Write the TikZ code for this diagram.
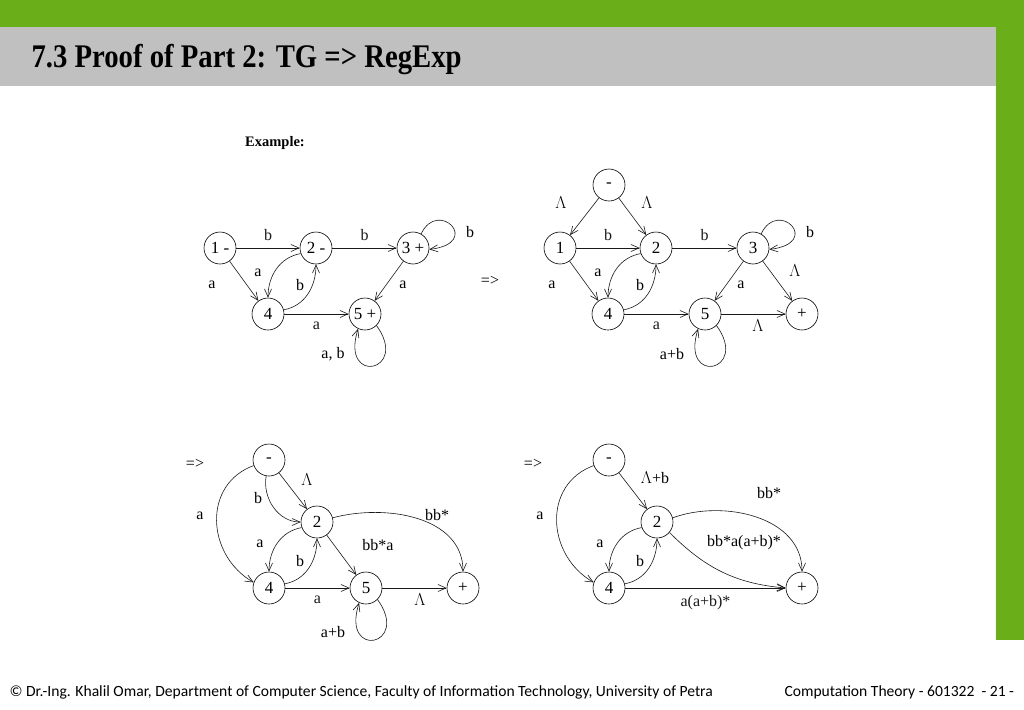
\documentclass[tikz,border=0pt]{standalone}
\usepackage{fontspec}
\setmainfont{Liberation Serif}
\newfontfamily\footfont{Carlito}
\newfontfamily\titlefont[FakeStretch=0.87]{Liberation Serif}
\usetikzlibrary{arrows.meta,calc}
\definecolor{topgreen}{HTML}{6AAF1A}
\definecolor{bandgray}{HTML}{C0C0C0}
\begin{document}
\begin{tikzpicture}[x=1pt,y=-1pt,
  st/.style={circle,draw,semithick,minimum size=32pt,inner sep=0pt,font=\fontsize{17}{17}\selectfont},
  lb/.style={font=\fontsize{16}{16}\selectfont},
  ed/.style={draw,-{Straight Barb[length=8pt,width=7pt]},semithick,gray!20!black}]
\useasboundingbox (0,0) rectangle (1024,709);
\fill[white] (0,0) rectangle (1024,709);
\fill[topgreen] (0,0) rectangle (1024,27);
\fill[topgreen] (996,27) rectangle (1024,640);
\fill[bandgray] (0,27) rectangle (996,86);
\node[anchor=west,font=\titlefont\bfseries\fontsize{33}{33}\selectfont] (title) at (28,60) {7.3 Proof of Part 2: TG => RegExp};
\node[anchor=west,font=\footfont\fontsize{15.6}{15.6}\selectfont] (foot1) at (6,692) {© Dr.-Ing. Khalil Omar, Department of Computer Science, Faculty of Information Technology, University of Petra};
\node[anchor=west,font=\footfont\fontsize{15.6}{15.6}\selectfont] (foot2) at (781,692) {Computation Theory - 601322 \ - 21 -};
\node[font=\bfseries\fontsize{14.5}{14.5}\selectfont] (ex) at (275,143) {Example:};

% graph 1
\node[st] (a1) at (220,248) {1 -};
\node[st] (a2) at (316,248) {2 -};
\node[st] (a3) at (413,248) {3 +};
\node[st] (a4) at (268,314) {4};
\node[st] (a5) at (365,314) {5 +};
\draw[ed] (a1) -- node[lb,above=4pt]{b} (a2);
\draw[ed] (a2) -- node[lb,above=4pt]{b} (a3);
\draw[ed] (a1) -- (a4);
\node[lb] (la14) at (212,285) {a};
\draw[ed] (a3) -- (a5);
\node[lb] (la35) at (403,285) {a};
\draw[ed] (a4) -- node[lb,below=4pt]{a} (a5);
\draw[ed] (a2.200) to[out=190,in=90] (a4.north);
\node[lb] (la24) at (258,273) {a};
\draw[ed] (a4.15) to[out=10,in=-90] (a2.south);
\node[lb] (lb42) at (300,285) {b};
\draw[ed] (a3.60) .. controls ($(a3)+(25,-50)$) and ($(a3)+(70,-5)$) .. (a3.-5);
\node[lb] (lb3) at (470,232) {b};
\draw[ed] (a5.-45) .. controls ($(a5)+(45,58)$) and ($(a5)+(-25,72)$) .. (a5.-115);
\node[lb] (lab5) at (333,354) {a, b};
\node[lb] (imp1) at (490,281) {=>};

% graph 2
\node[st] (b0) at (609,185) {-};
\node[st] (b1) at (560,248) {1};
\node[st] (b2) at (656,248) {2};
\node[st] (b3) at (753,248) {3};
\node[st] (b4) at (608,314) {4};
\node[st] (b5) at (705,314) {5};
\node[st] (bp) at (802,314) {+};
\draw[ed] (b0) -- (b1); \node[lb] (lb01) at (561,203) {$\Lambda$};
\draw[ed] (b0) -- (b2); \node[lb] (lb02) at (647,203) {$\Lambda$};
\draw[ed] (b1) -- node[lb,above=4pt]{b} (b2);
\draw[ed] (b2) -- node[lb,above=4pt]{b} (b3);
\draw[ed] (b1) -- (b4); \node[lb] (lb14) at (552,285) {a};
\draw[ed] (b3) -- (b5); \node[lb] (lb35) at (741,285) {a};
\draw[ed] (b3) -- (bp); \node[lb] (lb3p) at (795,271) {$\Lambda$};
\draw[ed] (b4) -- node[lb,below=4pt]{a} (b5);
\draw[ed] (b5) -- (bp); \node[lb] (lb5p) at (758,326) {$\Lambda$};
\draw[ed] (b2.200) to[out=190,in=90] (b4.north);
\node[lb] (lb24) at (598,273) {a};
\draw[ed] (b4.15) to[out=10,in=-90] (b2.south);
\node[lb] (lb42b) at (640,285) {b};
\draw[ed] (b3.60) .. controls ($(b3)+(25,-50)$) and ($(b3)+(70,-5)$) .. (b3.-5);
\node[lb] (lb3b) at (810,232) {b};
\draw[ed] (b5.-45) .. controls ($(b5)+(45,58)$) and ($(b5)+(-25,72)$) .. (b5.-115);
\node[lb] (lb5b) at (672,354) {a+b};

% graph 3
\node[lb] (imp2) at (195,464) {=>};
\node[st] (c0) at (269,460) {-};
\node[st] (c2) at (317,522) {2};
\node[st] (c4) at (269,588) {4};
\node[st] (c5) at (366,588) {5};
\node[st] (cp) at (463,588) {+};
\draw[ed] (c0) -- (c2); \node[lb] (lc02) at (307,480) {$\Lambda$};
\draw[ed] (c0.-100) to[out=-100,in=180] (c2.west);
\node[lb] (lc02b) at (258,498) {b};
\draw[ed] (c0.200) to[out=200,in=150,looseness=1.2] (c4.160);
\node[lb] (lc04) at (200,516) {a};
\draw[ed] (c2) -- (c5); \node[lb] (lc25) at (378,545) {bb*a};
\draw[ed] (c2.15) to[out=15,in=90] (cp.north);
\node[lb] (lc2p) at (437,515) {bb*};
\draw[ed] (c4) -- node[lb,below=4pt]{a} (c5);
\draw[ed] (c5) -- (cp); \node[lb] (lc5p) at (420,600) {$\Lambda$};
\draw[ed] (c2.200) to[out=190,in=90] (c4.north);
\node[lb] (lc24) at (260,544) {a};
\draw[ed] (c4.15) to[out=10,in=-90] (c2.south);
\node[lb] (lc42) at (300,561) {b};
\draw[ed] (c5.-45) .. controls ($(c5)+(45,58)$) and ($(c5)+(-25,72)$) .. (c5.-115);
\node[lb] (lc5) at (333,632) {a+b};

% graph 4
\node[lb] (imp3) at (533,464) {=>};
\node[st] (d0) at (609,460) {-};
\node[st] (d2) at (657,522) {2};
\node[st] (d4) at (609,588) {4};
\node[st] (dp) at (802,588) {+};
\draw[ed] (d0) -- (d2); \node[lb] (ld02) at (655,478) {$\Lambda$+b};
\draw[ed] (d0.200) to[out=200,in=150,looseness=1.2] (d4.160);
\node[lb] (ld04) at (540,516) {a};
\draw[ed] (d2.15) to[out=20,in=90] (dp.north);
\node[lb] (ld2p) at (769,493) {bb*};
\draw[ed] (d2.-40) to[out=-45,in=175] (dp.west);
\node[lb] (ld2p2) at (744,543) {bb*a(a+b)*};
\draw[ed] (d4) -- node[lb,below=4pt]{a(a+b)*} (dp);
\draw[ed] (d2.200) to[out=190,in=90] (d4.north);
\node[lb] (ld24) at (600,544) {a};
\draw[ed] (d4.15) to[out=10,in=-90] (d2.south);
\node[lb] (ld42) at (640,561) {b};
\end{tikzpicture}
\end{document}
